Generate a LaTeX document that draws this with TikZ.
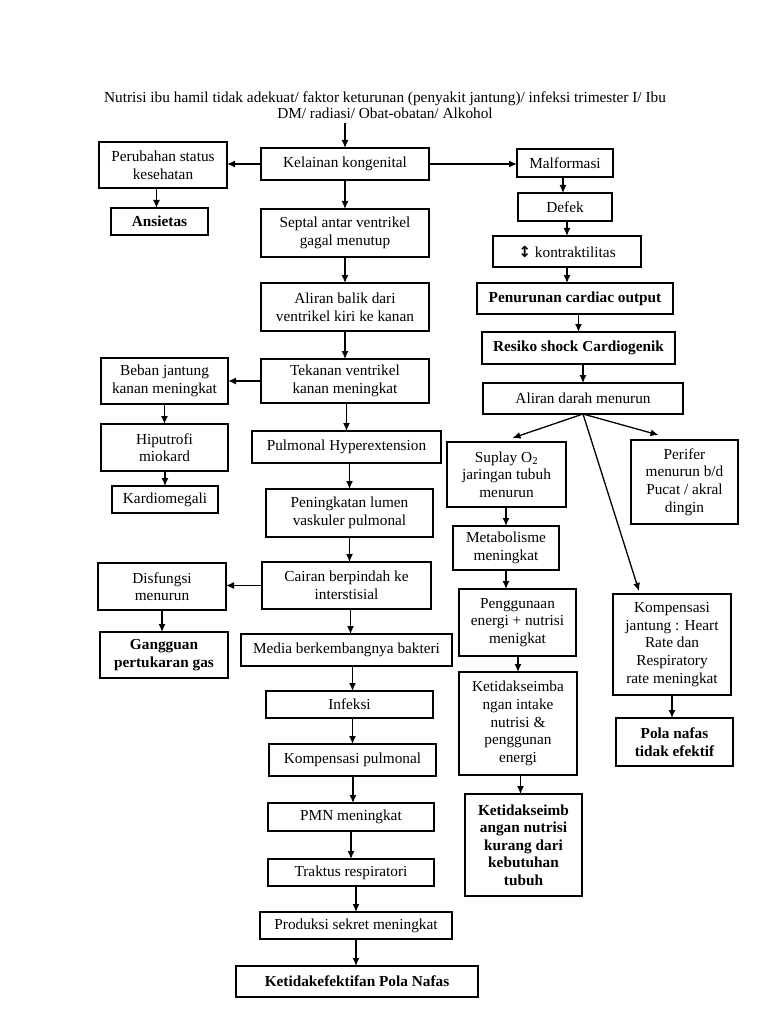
\documentclass[tikz,border=0pt]{standalone}
\usepackage{fontspec}
\setmainfont{Liberation Serif}
\newfontfamily\dejavu{DejaVu Sans}
\usetikzlibrary{arrows.meta,calc}
\tikzset{
  bx/.style={draw, line width=1.1pt, align=center, inner sep=0pt, outer sep=0pt, font=\fontsize{15.3}{17.6}\selectfont},
  tk/.style={bx, line width=2pt},
  bf/.style={font=\fontsize{15.3}{17.6}\selectfont\bfseries},
  arr/.style={line width=1.3pt, -{Latex[length=8pt,width=7pt]}},
}
\newcommand\bx[7]{\node[#1, minimum width={(#5)-(#3)}, minimum height={(#6)-(#4)}] (#2) at ({((#3)+(#5))/2},{((#4)+(#6))/2}) {#7};}
\begin{document}
\begin{tikzpicture}[x=1pt,y=-1pt]
\fill[white] (0,0) rectangle (768,1024);
\useasboundingbox (0,0) rectangle (768,1024);
\node[font=\fontsize{15.3}{16}\selectfont, align=center, inner sep=0pt] (title) at (385,105)
  {Nutrisi ibu hamil tidak adekuat/ faktor keturunan (penyakit jantung)/ infeksi trimester I/ Ibu\\DM/ radiasi/ Obat-obatan/ Alkohol};
% middle column
\bx{bx}{kel}{261}{148}{429}{180}{Kelainan kongenital}
\bx{bx}{sep}{261}{209}{429}{257}{Septal antar ventrikel\\gagal menutup}
\bx{bx}{alb}{261}{283}{429}{331}{Aliran balik dari\\ventrikel kiri ke kanan}
\bx{bx}{tek}{261}{359}{429}{403}{Tekanan ventrikel\\kanan meningkat}
\bx{tk}{pul}{252}{431}{441}{463}{Pulmonal Hyperextension}
\bx{bx}{lum}{266}{489}{433}{537}{Peningkatan lumen\\vaskuler pulmonal}
\bx{bx}{cai}{262}{562}{431}{609}{Cairan berpindah ke\\interstisial}
\bx{bx}{med}{241}{634}{452}{666}{Media berkembangnya bakteri}
\bx{bx}{inf}{266}{691}{433}{718}{Infeksi}
\bx{bx}{kpu}{269}{744}{436}{776}{Kompensasi pulmonal}
\bx{bx}{pmn}{268}{803}{434}{831}{PMN meningkat}
\bx{bx}{tra}{268}{859}{434}{886}{Traktus respiratori}
\bx{bx}{pro}{260}{912}{452}{939}{Produksi sekret meningkat}
\bx{tk,bf}{kef}{236}{966}{478}{997}{Ketidakefektifan Pola Nafas}
% left column
\bx{tk}{per}{99}{142}{227}{188}{Perubahan status\\kesehatan}
\bx{tk,bf}{ans}{111}{208}{208}{235}{Ansietas}
\bx{bx}{beb}{101}{358}{228}{404}{Beban jantung\\kanan meningkat}
\bx{bx}{hip}{101}{424}{228}{471}{Hiputrofi\\miokard}
\bx{tk}{kar}{112}{486}{218}{513}{Kardiomegali}
\bx{bx}{dis}{98}{563}{226}{610}{Disfungsi\\menurun}
\bx{tk,bf}{gan}{100}{632}{228}{678}{Gangguan\\pertukaran gas}
% right column
\bx{bx}{mal}{517}{149}{613}{177}{Malformasi}
\bx{bx}{def}{518}{193}{612}{221}{Defek}
\bx{tk}{kon}{493}{236}{641}{267}{{\dejavu\bfseries ↕}\ kontraktilitas}
\bx{tk,bf}{pen}{477}{283}{673}{314}{Penurunan cardiac output}
\bx{bx,bf}{res}{482}{332}{675}{364}{Resiko shock Cardiogenik}
\bx{bx}{adm}{483}{383}{683}{414}{Aliran darah menurun}
\bx{bx}{sup}{447}{442}{566}{507}{Suplay O\textsubscript{2}\\jaringan tubuh\\menurun}
\bx{bx}{prf}{631}{440}{738}{524}{Perifer\\menurun b/d\\Pucat / akral\\dingin}
\bx{tk}{met}{453}{526}{559}{570}{Metabolisme\\meningkat}
\bx{tk}{peg}{459}{589}{576}{656}{Penggunaan\\energi + nutrisi\\menigkat}
\bx{tk}{kti}{459}{672}{577}{775}{Ketidakseimba\\ngan intake\\nutrisi \&\\penggunan\\energi}
\bx{bx,bf}{kse}{465}{794}{582}{896}{Ketidakseimb\\angan nutrisi\\kurang dari\\kebutuhan\\tubuh}
\bx{bx}{kj}{613}{594}{731}{695}{Kompensasi\\jantung : Heart\\Rate dan\\Respiratory\\rate meningkat}
\bx{tk,bf}{pol}{616}{718}{733}{766}{Pola nafas\\tidak efektif}
% arrows middle
\draw[arr] (title.south -| kel.north) ++(0,4) -- (kel.north);
\draw[arr] (kel.west) -- (kel.west -| per.east);
\draw[arr] (kel.east) -- (kel.east -| mal.west);
\draw[arr] (kel.south) -- (sep.north);
\draw[arr] (sep.south) -- (alb.north);
\draw[arr] (alb.south) -- (tek.north);
\draw[arr] (tek.west) -- (tek.west -| beb.east);
\draw[arr] (tek.south -| pul.north) -- (pul.north);
\draw[arr] (pul.south -| lum.north) -- (lum.north);
\draw[arr] (lum.south) -- (lum.south |- cai.north);
\draw[arr] (cai.west) -- (cai.west -| dis.east);
\draw[arr] ($(cai.south)+(4,0)$) -- ($(med.north)+(4,0)$);
\draw[arr] (med.south -| inf.north) ++(3,0) -- ($(inf.north)+(3,0)$);
\draw[arr] (inf.south -| kpu.north) -- (kpu.north);
\draw[arr] (kpu.south -| pmn.north) ++(2,0) -- ($(pmn.north)+(2,0)$);
\draw[arr] (pmn.south) -- (tra.north);
\draw[arr] (tra.south -| pro.north) -- (pro.north);
\draw[arr] (pro.south) -- (pro.south |- kef.north);
% arrows left
\draw[arr] (per.south -| ans.north) ++(-3,0) -- ($(ans.north)+(-3,0)$);
\draw[arr] (beb.south) -- (hip.north);
\draw[arr] (hip.south -| kar.north) -- (kar.north);
\draw[arr] (dis.south) -- (dis.south |- gan.north);
% arrows right
\draw[arr] (mal.south -| def.north) ++(-2,0) -- ($(def.north)+(-2,0)$);
\draw[arr] (def.south -| kon.north) -- (kon.north);
\draw[arr] (kon.south) -- (kon.south |- pen.north);
\draw[arr] (pen.south -| res.north) -- (res.north);
\draw[arr] (res.south -| adm.north) -- (adm.north);
\draw[arr] (adm.south) -- ($(sup.north)+(6,-4)$);
\draw[arr] (adm.south) -- ($(prf.north)+(-26,-5)$);
\draw[arr] (adm.south) -- ($(kj.north)+(-33,-3)$);
\draw[arr] (sup.south -| met.north) -- (met.north);
\draw[arr] (met.south) -- (met.south |- peg.north);
\draw[arr] (peg.south -| kti.north) -- (kti.north);
\draw[arr] (kti.south -| kse.north) ++(-3,0) -- ($(kse.north)+(-3,0)$);
\draw[arr] (kj.south) -- (kj.south |- pol.north);
\end{tikzpicture}
\end{document}
